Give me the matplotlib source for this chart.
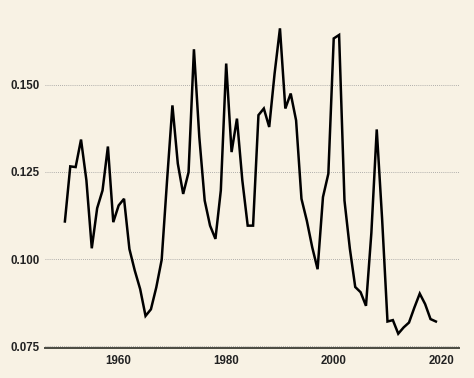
import matplotlib
matplotlib.use("Agg")
import matplotlib.pyplot as plt

years = list(range(1950, 2020))
values = [
    0.1108, 0.1266, 0.1264, 0.1343, 0.1226, 0.1031, 0.1146, 0.1197, 0.1323, 0.1106,
    0.1154, 0.1173, 0.1029, 0.0967, 0.0914, 0.0837, 0.0856, 0.0919, 0.0998, 0.1225,
    0.1441, 0.1274, 0.1187, 0.1249, 0.1602, 0.1350, 0.1168, 0.1096, 0.1058, 0.1197,
    0.1561, 0.1307, 0.1403, 0.1226, 0.1096, 0.1096, 0.1413, 0.1432, 0.1379, 0.1532,
    0.1662, 0.1432, 0.1475, 0.1398, 0.1173, 0.1110, 0.1034, 0.0971, 0.1178, 0.1245,
    0.1633, 0.1643, 0.1168, 0.1030, 0.0920, 0.0905, 0.0866, 0.1075, 0.1372, 0.1115,
    0.0821, 0.0825, 0.0786, 0.0804, 0.0818, 0.0861, 0.0901, 0.0871, 0.0828, 0.0821,
]
xticks = [1960, 1980, 2000, 2020]
yticks = [0.075, 0.100, 0.125, 0.150]

bg = "#F8F2E4"
fig = plt.figure(figsize=(4.74, 3.78), dpi=100, facecolor=bg)
ax = fig.add_axes([45 / 474, 1 - 348 / 378, (459 - 45) / 474, (348 - 13) / 378])
ax.set_facecolor(bg)

ax.plot(years, values, color="black", lw=1.8, solid_joinstyle="miter")

ax.set_xlim(1946.3, 2023.3)
ax.set_ylim(0.0745, 0.1706)
ax.set_xticks(xticks)
ax.set_yticks(yticks)
ax.set_yticklabels([f"{t:.3f}" for t in yticks])

for s in ["top", "right", "left"]:
    ax.spines[s].set_visible(False)
ax.spines["bottom"].set_color("#4a4a40")
ax.spines["bottom"].set_linewidth(1.4)

ax.grid(axis="y", color="#999999", linestyle=(0, (1, 1.5)), linewidth=0.6)
ax.grid(axis="x", visible=False)
ax.set_axisbelow(True)

ax.tick_params(axis="both", length=0, labelsize=8.3, colors="#222222")
ax.tick_params(axis="y", pad=4)
ax.tick_params(axis="x", pad=5)
for lab in ax.get_xticklabels() + ax.get_yticklabels():
    lab.set_fontfamily("Liberation Sans")
    lab.set_fontweight("bold")

fig.savefig("out.png", dpi=100, facecolor=bg)
